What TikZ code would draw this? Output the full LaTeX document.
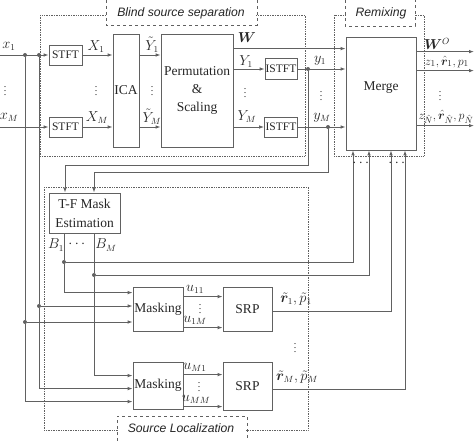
\documentclass[tikz,border=0pt]{standalone}
\usepackage{amsmath,bm}
\usepackage{fontspec}
\setmainfont{Liberation Serif}
\setsansfont{Liberation Sans}
\usetikzlibrary{arrows.meta}
\colorlet{lc}{black!62}
\colorlet{tc}{black!85}
\newcommand{\mainsz}{\fontsize{13.5}{18}\selectfont}
\newcommand{\smsz}{\fontsize{11.5}{13}\selectfont}
\newcommand{\tagsz}{\fontsize{12.2}{14}\selectfont\sffamily\itshape}
\tikzset{
  box/.style={draw=lc, line width=0.8pt, rectangle, inner sep=0pt, text=tc, font=\mainsz, align=center},
  smallbox/.style={box, font=\smsz},
  lbl/.style={inner sep=0pt, text=tc, font=\mainsz},
  slbl/.style={inner sep=0pt, text=tc, font=\fontsize{12.5}{14}\selectfont},
  vd/.style={inner sep=0pt, text=tc, font=\fontsize{10}{11}\selectfont},
  arr/.style={draw=lc, line width=0.9pt, -{Latex[length=5pt,width=3.6pt]}},
  ln/.style={draw=lc, line width=0.9pt},
  dotc/.style={circle, fill=lc, inner sep=0pt, minimum size=4pt},
  grp/.style={draw=lc, densely dotted, line width=0.7pt},
  tagbox/.style={draw=lc, dashed, line width=0.7pt},
  tagtxt/.style={inner sep=0pt, text=tc, font=\tagsz}
}
\begin{document}
\begin{tikzpicture}[x=1pt,y=-1pt]
\useasboundingbox (0,0) rectangle (474,441);
% group boxes
\draw[grp] (40,15) rectangle (305,156);
\draw[grp] (334,15) rectangle (424,156);
\draw[grp] (44,187) rectangle (308,430);
\fill[white] (107,0) rectangle (256,24);
\fill[white] (346,0) rectangle (414,25);
\fill[white] (118,417) rectangle (246,441);
\draw[tagbox] (106,0) -- (106,25) -- (257,25) -- (257,0);
\draw[tagbox] (345,0) -- (345,26) -- (415,26) -- (415,0);
\draw[tagbox] (117,441) -- (117,416) -- (247,416) -- (247,441);
\node[tagtxt] (tbss) at (181,13) {Blind source separation};
\node[tagtxt] (trem) at (381,13) {Remixing};
\node[tagtxt] (tsl) at (181,428) {Source Localization};

% blocks
\node[smallbox, minimum width=33pt, minimum height=20pt] (stft1) at (65.5,55) {STFT};
\node[smallbox, minimum width=33pt, minimum height=20pt] (stft2) at (65.5,127) {STFT};
\node[box, minimum width=26pt, minimum height=113pt] (ica) at (126,90.5) {ICA};
\node[box, minimum width=72pt, minimum height=113pt] (perm) at (197,90.5) {Permutation\\\&\\Scaling};
\node[smallbox, minimum width=32pt, minimum height=21pt] (istft1) at (281,69) {ISTFT};
\node[smallbox, minimum width=33pt, minimum height=20pt] (istft2) at (281,127) {ISTFT};
\node[box, minimum width=70pt, minimum height=113pt] (merge) at (381,93.5) {};
\node[lbl] (mergetxt) at (381,88) {Merge};
\node[box, minimum width=71pt, minimum height=40pt, font=\fontsize{13.5}{19}\selectfont] (tfm) at (84.5,213) {T-F Mask\\Estimation};
\node[box, minimum width=50pt, minimum height=44pt] (mask1) at (158,309) {Masking};
\node[box, minimum width=50pt, minimum height=47pt] (maskM) at (158,385.5) {Masking};
\node[box, minimum width=49pt, minimum height=44pt] (srp1) at (247.5,309) {SRP};
\node[box, minimum width=49pt, minimum height=48pt] (srpM) at (247.5,386) {SRP};

% junction dots
\node[dotc] (da) at (25,55) {};
\node[dotc] (db) at (39,55) {};
\node[dotc] (dc) at (39,306) {};
\node[dotc] (dd) at (25,322) {};
\node[dotc] (dy1) at (308,69) {};
\node[dotc] (dyM) at (328,127) {};
\node[dotc] (dB1) at (64,262) {};
\node[dotc] (dBM) at (94,275) {};

% free ends and bends
\coordinate (x1in) at (0,55);
\coordinate (xMin) at (0,127);
\coordinate (rend) at (474,0);
\coordinate (k1) at (65,165);
\coordinate (k2) at (94,172);

% inputs
\draw[arr] (x1in) -- (stft1.west);
\draw[arr] (xMin) -- (stft2.west);
\draw[ln] (db) -- (dc);
\draw[arr] (dc) -- (dc -| mask1.west);
\draw[arr] (dc) |- ([yshift=-27pt]maskM.north west);
\draw[ln] (da) -- (dd);
\draw[arr] (dd) -- (dd -| mask1.west);
\draw[arr] (dd) |- ([yshift=-40pt]maskM.north west);

% BSS chain
\draw[arr] (stft1.east) -- (stft1.east -| ica.west);
\draw[arr] (stft2.east) -- (stft2.east -| ica.west);
\draw[arr] (ica.east |- stft1.east) -- (stft1.east -| perm.west);
\draw[arr] (ica.east |- stft2.east) -- (stft2.east -| perm.west);
\coordinate (w0) at ([yshift=-15pt]perm.north east);
\draw[arr] (w0) -- (w0 -| merge.west);
\draw[arr] (perm.east |- istft1.west) -- (istft1.west);
\draw[arr] (perm.east |- istft2.west) -- (istft2.west);
\draw[arr] (istft1.east) -- (istft1.east -| merge.west);
\draw[arr] (istft2.east) -- (istft2.east -| merge.west);

% feedback to mask estimation
\draw[arr] (dy1) |- (k1) -- (k1 |- tfm.north);
\draw[arr] (dyM) |- (k2) -- (k2 |- tfm.north);

% mask outputs
\draw[ln] (tfm.south -| dB1) -- (dB1);
\draw[arr] (dB1) |- ([yshift=-6pt]mask1.north west);
\draw[arr] (dB1) -| ([xshift=-28pt]merge.south);
\draw[ln] (tfm.south -| dBM) -- (dBM);
\draw[arr] (dBM) |- ([yshift=-14pt]maskM.north west);
\draw[arr] (dBM) -| ([xshift=-12pt]merge.south);

% masking -> SRP
\coordinate (u11) at ([yshift=-10pt]mask1.north east);
\coordinate (u1M) at ([yshift=-41pt]mask1.north east);
\coordinate (uM1) at ([yshift=-13pt]maskM.north east);
\coordinate (uMM) at ([yshift=-45pt]maskM.north east);
\draw[arr] (u11) -- (u11 -| srp1.west);
\draw[arr] (u1M) -- (u1M -| srp1.west);
\draw[arr] (uM1) -- (uM1 -| srpM.west);
\draw[arr] (uMM) -- (uMM -| srpM.west);
\coordinate (s1) at ([yshift=-2pt]srp1.east);
\coordinate (sM) at ([yshift=-3pt]srpM.east);
\draw[arr] (s1) -| ([xshift=10pt]merge.south);
\draw[arr] (sM) -| ([xshift=24pt]merge.south);

% merge outputs
\coordinate (o1) at ([yshift=-15pt]merge.north east);
\coordinate (o2) at ([yshift=-34pt]merge.north east);
\coordinate (o3) at ([yshift=-89pt]merge.north east);
\draw[arr] (o1) -- (o1 -| rend);
\draw[arr] (o2) -- (o2 -| rend);
\draw[arr] (o3) -- (o3 -| rend);

% labels
\node[lbl] (lx1) at (9,46) {$x_1$};
\node[lbl] (lxM) at (9,117) {$x_M$};
\node[vd] (v1) at (5,88) {$\vdots$};
\node[lbl] (lX1) at (96,47) {$X_1$};
\node[lbl] (lXM) at (97,118) {$X_M$};
\node[vd] (v2) at (96,88) {$\vdots$};
\node[lbl] (lY1t) at (152,45) {$\tilde{Y}_1$};
\node[lbl] (lYMt) at (152,117) {$\tilde{Y}_M$};
\node[vd] (v3) at (152,88) {$\vdots$};
\node[lbl] (lW) at (247,38) {$\bm{W}$};
\node[lbl] (lY1) at (246,62) {$Y_1$};
\node[lbl] (lYM) at (247,117) {$Y_M$};
\node[vd] (v4) at (245,90) {$\vdots$};
\node[lbl] (ly1) at (320,61) {$y_1$};
\node[lbl] (lyM) at (322,118) {$y_M$};
\node[vd] (v5) at (321,93) {$\vdots$};
\node[lbl] (lWO) at (437,44) {$\bm{W}^O$};
\node[slbl] (lz1) at (447,62) {$z_1,\hat{\bm r}_1,p_1$};
\node[slbl] (lzN) at (446,117) {$z_{\hat N},\hat{\bm r}_{\hat N},p_{\hat N}$};
\node[vd] (v6) at (440,93) {$\vdots$};
\node[lbl] (h1) at (362,163) {$\cdots$};
\node[lbl] (h2) at (398,163) {$\cdots$};
\node[lbl] (lB1) at (56,245) {$B_1$};
\node[lbl] (h3) at (78,244) {$\cdots$};
\node[lbl] (lBM) at (106,245) {$B_M$};
\node[lbl] (lu11) at (195,289) {$u_{11}$};
\node[lbl] (lu1M) at (195,320) {$u_{1M}$};
\node[vd] (v7) at (200,306) {$\vdots$};
\node[lbl] (luM1) at (195,367) {$u_{M1}$};
\node[lbl] (luMM) at (196,399) {$u_{MM}$};
\node[vd] (v8) at (199,384) {$\vdots$};
\node[lbl] (lr1) at (296,299) {$\tilde{\bm r}_1,\tilde{p}_1$};
\node[lbl] (lrM) at (297,377) {$\tilde{\bm r}_M,\tilde{p}_M$};
\node[vd] (v9) at (295,345) {$\vdots$};
\end{tikzpicture}
\end{document}
